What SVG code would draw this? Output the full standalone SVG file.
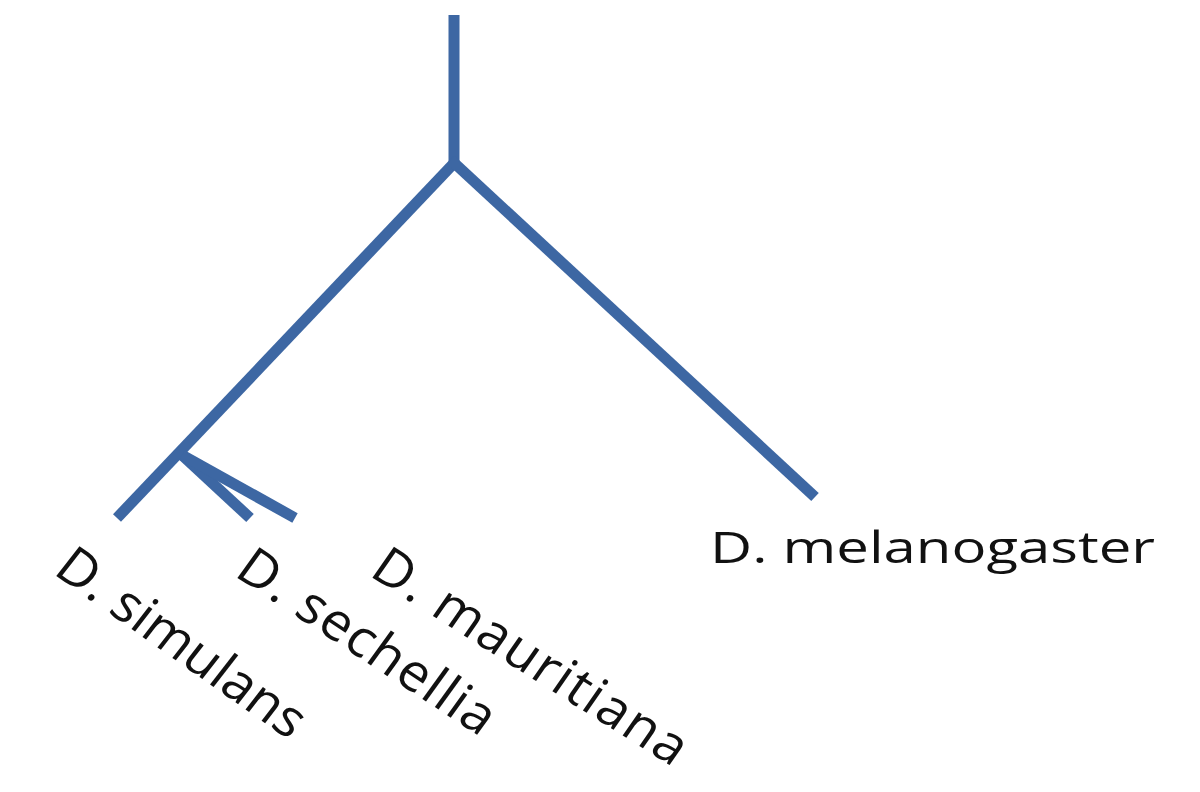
<svg xmlns="http://www.w3.org/2000/svg" width="1200" height="792" viewBox="0 0 1200 792">
<style>
.br{stroke:#3d67a3;stroke-width:11;stroke-linecap:butt;fill:none}
.lbl{font-family:"Open Sans","Noto Sans","Liberation Sans",sans-serif;fill:#111}
</style>
<rect width="1200" height="792" fill="#fff"/>
<g id="connectors">
<line class="br" x1="454" y1="15" x2="454" y2="163"/>
<line class="br" x1="457" y1="160" x2="117" y2="518"/>
<line class="br" x1="451" y1="160" x2="815" y2="497"/>
<line class="br" x1="182" y1="455" x2="250" y2="518"/>
<line class="br" x1="182" y1="455" x2="295" y2="518"/>
</g>
<g id="node-simulans">
<text class="lbl" font-size="52" transform="translate(52,573) scale(1.05,1) rotate(36.5)">D. simulans</text>
</g>
<g id="node-sechellia">
<text class="lbl" font-size="52" letter-spacing="1.2" transform="translate(233,575) scale(1.05,1) rotate(34.5)">D. sechellia</text>
</g>
<g id="node-mauritiana">
<text class="lbl" font-size="52" letter-spacing="1.6" transform="translate(368,575) scale(1.05,1) rotate(33.5)">D. mauritiana</text>
</g>
<g id="node-melanogaster">
<text class="lbl" font-size="44" x="710" y="563" textLength="445" lengthAdjust="spacingAndGlyphs">D. melanogaster</text>
</g>
</svg>
